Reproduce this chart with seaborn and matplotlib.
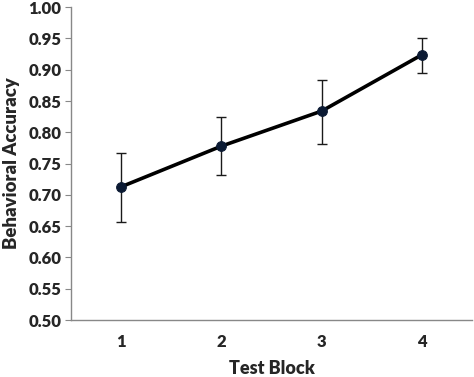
import matplotlib
matplotlib.use("Agg")
import matplotlib.pyplot as plt
import seaborn as sns
import pandas as pd

blocks = [1, 2, 3, 4]
accuracy = [0.713, 0.778, 0.834, 0.924]
err_low = [0.656, 0.732, 0.782, 0.894]
err_high = [0.767, 0.824, 0.883, 0.951]
y_ticks = [0.50, 0.55, 0.60, 0.65, 0.70, 0.75, 0.80, 0.85, 0.90, 0.95, 1.00]

sns.set_style("white")
plt.rcParams['font.family'] = ['Lato', 'DejaVu Sans']

df = pd.DataFrame({"block": blocks, "acc": accuracy})

fig = plt.figure(figsize=(4.74, 3.77), dpi=100)
ax = fig.add_axes([0.15, 0.151, 0.846, 0.83])

yerr = [[a - l for a, l in zip(accuracy, err_low)], [h - a for a, h in zip(accuracy, err_high)]]
ax.errorbar(blocks, accuracy, yerr=yerr, fmt='none', ecolor='#1a1a1a', elinewidth=1.0, capsize=3.5, capthick=1.0, zorder=2)
sns.lineplot(data=df, x="block", y="acc", ax=ax, color='black', linewidth=2.6, marker='o',
             markersize=7, markerfacecolor='#0b1a33', markeredgecolor='#0b1a33', zorder=3)

ax.set_xlim(0.5, 4.5)
ax.set_ylim(0.5, 1.0)
ax.set_xticks(blocks)
ax.set_xticklabels([str(b) for b in blocks], fontsize=12, fontweight='heavy')
ax.set_yticks(y_ticks)
ax.set_yticklabels([f"{v:.2f}" for v in y_ticks], fontsize=12, fontweight='heavy')
ax.set_xticks([4.5], minor=True)
ax.tick_params(axis='x', which='both', direction='in', length=3, width=0.8, color='#888888', pad=10)
ax.tick_params(axis='y', direction='out', length=4, width=0.8, color='#888888', left=True, pad=3)
ax.set_xlabel("Test Block", fontsize=13, fontweight='heavy', labelpad=7)
ax.set_ylabel("Behavioral Accuracy", fontsize=13.3, fontweight='heavy', labelpad=6)

for s in ['top', 'right']:
    ax.spines[s].set_visible(False)
for s in ['left', 'bottom']:
    ax.spines[s].set_color('#888888')
    ax.spines[s].set_linewidth(1.0)
ax.grid(False)

fig.savefig("out.png", dpi=100)
